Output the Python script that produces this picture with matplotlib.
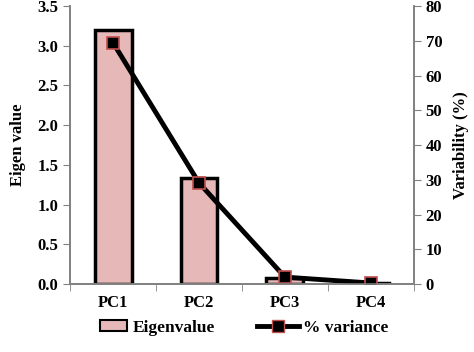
import numpy as np
import matplotlib.pyplot as plt
from matplotlib.lines import Line2D
from matplotlib.patches import Patch

# Data
components = ["PC1", "PC2", "PC3", "PC4"]
eigenvalues = [3.20, 1.34, 0.08, 0.01]
variance_pct = [69.4, 29.1, 2.0, 0.3]

plt.rcParams["font.family"] = "Liberation Serif"
plt.rcParams["font.weight"] = "bold"

fig = plt.figure(figsize=(4.74, 3.52), dpi=100)
ax1 = fig.add_axes([0.148, 0.193, 0.725, 0.79])
ax2 = ax1.twinx()

x = np.arange(len(components))
ax1.bar(x, eigenvalues, width=0.43, color="#e6b8b7", edgecolor="black", linewidth=2.5, zorder=2)
ax2.plot(x, variance_pct, color="black", linewidth=3.5, marker="s", markersize=8,
         markerfacecolor="black", markeredgecolor="#c0504d", markeredgewidth=1.2)

ax1.set_xlim(-0.5, 3.5)
ax1.set_ylim(0, 3.5)
ax2.set_ylim(0, 80)
ax1.set_yticks(np.arange(0, 3.51, 0.5))
ax1.set_yticklabels([f"{v:.1f}" for v in np.arange(0, 3.51, 0.5)])
ax2.set_yticks(range(0, 81, 10))

ax1.set_xticks(x)
ax1.set_xticklabels(components)
ax1.set_xticks(np.arange(-0.5, 3.6, 1), minor=True)
ax1.tick_params(axis="x", which="major", length=0, pad=8)
ax1.tick_params(axis="x", which="minor", length=5, color="grey")

for ax in (ax1, ax2):
    ax.tick_params(axis="y", length=5, color="grey", labelsize=12)
    ax.tick_params(axis="x", labelsize=12)
    ax.spines["top"].set_visible(False)
    for s in ("left", "right", "bottom"):
        ax.spines[s].set_color("grey")
        ax.spines[s].set_linewidth(1.2)

ax1.set_ylabel("Eigen value", fontsize=12, fontweight="bold", labelpad=8)
ax2.set_ylabel("Variability (%)", fontsize=12, fontweight="bold", labelpad=8)

# legend below the plot, two parts with different handle lengths
bar_handle = Patch(facecolor="#e6b8b7", edgecolor="black", linewidth=1.5)
line_handle = Line2D([0], [0], color="black", linewidth=3.5, marker="s", markersize=8,
                     markerfacecolor="black", markeredgecolor="#c0504d")
fig.legend([bar_handle], ["Eigenvalue"], loc="center left",
           bbox_to_anchor=(0.21, 0.068), frameon=False, fontsize=12.5,
           handlelength=1.6, handleheight=0.6, handletextpad=0.3, borderpad=0, borderaxespad=0)
fig.legend([line_handle], ["% variance"], loc="center left",
           bbox_to_anchor=(0.543, 0.068), frameon=False, fontsize=12.5,
           handlelength=2.4, handletextpad=0.25, borderpad=0, borderaxespad=0)

fig.savefig("out.png", dpi=100)
